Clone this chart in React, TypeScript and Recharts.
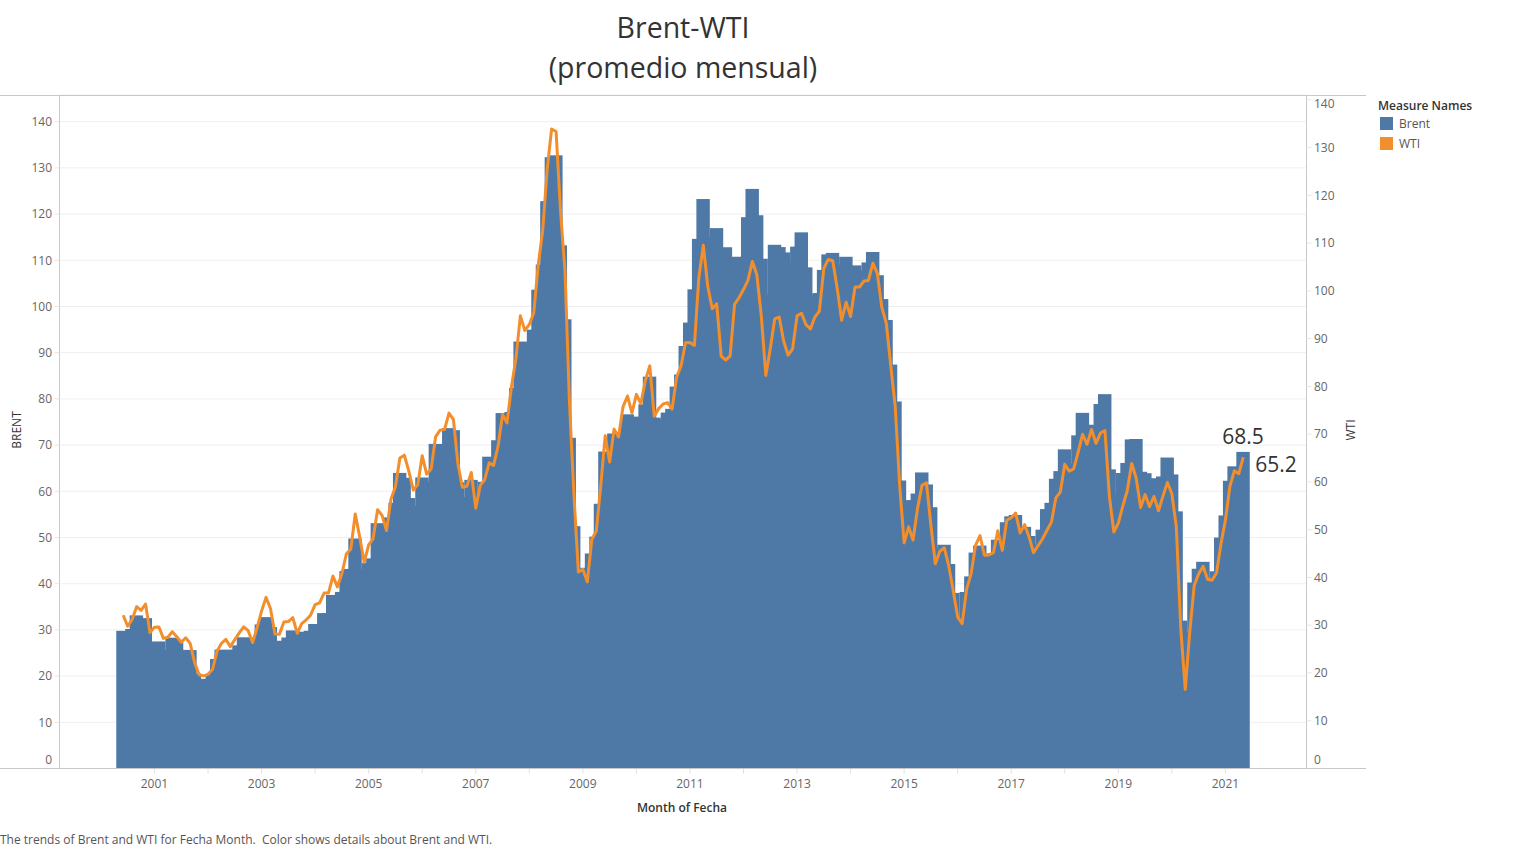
import { ComposedChart, Bar, Line, XAxis, YAxis, CartesianGrid, LabelList } from "recharts";

const FONT = '"Open Sans", sans-serif';
const BLUE = "#4e79a7";
const ORANGE = "#f28e2b";

// monthly averages, Jun 2000 .. May 2021
const brent = [
  29.8, 28.68, 30.2, 33.14, 30.96, 32.55, 25.66,
  25.62, 27.5, 24.5, 25.66, 28.31, 27.85, 24.61, 25.68, 25.62, 20.54, 18.8, 18.71,
  19.42, 20.28, 23.7, 25.73, 25.35, 24.08, 25.74, 26.65, 28.4, 27.54, 24.34, 28.33,
  31.18, 32.77, 30.61, 25.0, 25.86, 27.65, 28.35, 29.89, 27.11, 29.61, 28.75, 29.81,
  31.28, 30.86, 33.63, 33.59, 37.57, 35.18, 38.22, 42.74, 43.2, 49.78, 43.11, 39.6,
  44.51, 45.48, 53.1, 51.88, 48.65, 54.35, 57.52, 63.98, 62.91, 58.54, 55.24, 56.86,
  62.99, 60.21, 62.06, 70.26, 69.78, 68.56, 73.67, 73.23, 61.96, 57.81, 58.76, 62.47,
  53.68, 57.56, 62.05, 67.49, 67.21, 71.05, 76.93, 70.76, 77.17, 82.34, 92.41, 90.93,
  92.18, 94.99, 103.64, 109.07, 122.8, 132.32, 132.72, 113.24, 97.23, 71.58, 52.45, 39.95,
  43.44, 43.32, 46.54, 50.18, 57.3, 68.61, 64.44, 72.51, 67.65, 72.77, 76.66, 74.46,
  76.17, 73.75, 78.83, 84.82, 75.95, 74.76, 75.58, 77.04, 77.84, 82.67, 85.28, 91.45,
  96.52, 103.72, 114.64, 123.26, 114.99, 113.83, 116.97, 110.22, 112.83, 109.55, 110.77, 107.87,
  110.69, 119.33, 125.45, 119.75, 110.34, 95.16, 102.62, 113.36, 112.86, 111.71, 109.06, 109.49,
  112.96, 116.05, 108.47, 102.25, 102.56, 102.92, 107.93, 111.28, 111.6, 109.08, 107.79, 110.76,
  108.12, 108.9, 107.48, 107.76, 109.54, 111.8, 106.77, 101.61, 97.09, 87.43, 79.44, 62.34,
  47.76, 58.1, 55.89, 59.52, 64.08, 61.48, 56.56, 46.52, 47.62, 48.43, 44.27, 38.01,
  30.7, 32.18, 38.21, 41.58, 46.74, 48.25, 44.95, 45.84, 46.57, 49.52, 44.73, 53.31,
  54.58, 54.87, 51.59, 52.31, 50.33, 46.37, 48.48, 51.7, 56.15, 57.51, 62.71, 64.37,
  69.08, 65.32, 66.02, 72.11, 76.98, 74.41, 74.25, 72.53, 78.89, 81.03, 64.75, 57.36,
  59.41, 63.96, 66.14, 71.23, 71.32, 64.22, 63.92, 59.04, 62.83, 59.71, 63.21, 67.31,
  63.65, 55.66, 32.01, 18.38, 29.38, 40.27, 43.24, 44.74, 40.91, 40.19, 42.69, 49.99,
  54.77, 62.28, 65.41, 64.81, 68.53,
];

const wti = [
  32.08, 29.77, 31.22, 33.88, 33.11, 34.42, 28.44,
  29.59, 29.61, 27.24, 27.49, 28.63, 27.6, 26.43, 27.37, 26.2, 22.17, 19.64, 19.39,
  19.72, 20.72, 24.53, 26.18, 27.04, 25.52, 26.97, 28.39, 29.66, 28.84, 26.35, 29.46,
  32.95, 35.83, 33.51, 28.17, 28.11, 30.66, 30.76, 31.57, 28.31, 30.34, 31.11, 32.13,
  34.31, 34.69, 36.74, 36.75, 40.28, 38.03, 40.78, 44.9, 45.94, 53.28, 48.47, 43.15,
  46.84, 48.15, 54.19, 52.98, 49.83, 56.35, 59.0, 64.99, 65.59, 62.26, 58.32, 59.41,
  65.49, 61.63, 62.69, 69.44, 70.84, 70.95, 74.41, 73.04, 63.8, 58.89, 59.08, 61.96,
  54.51, 59.28, 60.44, 63.98, 63.45, 67.49, 74.12, 72.36, 79.92, 85.8, 94.77, 91.69,
  92.97, 95.39, 105.45, 112.58, 125.4, 133.88, 133.37, 116.67, 104.11, 76.61, 57.31, 41.12,
  41.71, 39.09, 47.94, 49.65, 59.03, 69.64, 64.15, 71.05, 69.41, 75.72, 77.99, 74.47,
  78.33, 76.39, 81.2, 84.29, 73.74, 75.34, 76.32, 76.6, 75.24, 81.89, 84.25, 89.15,
  89.17, 88.58, 102.86, 109.53, 100.9, 96.26, 97.3, 86.33, 85.52, 86.32, 97.16, 98.56,
  100.27, 102.2, 106.16, 103.32, 94.66, 82.3, 87.9, 94.13, 94.51, 89.49, 86.53, 87.86,
  94.76, 95.31, 92.94, 92.02, 94.51, 95.77, 104.67, 106.57, 106.29, 100.54, 93.86, 97.63,
  94.62, 100.82, 100.8, 102.07, 102.18, 105.79, 103.59, 96.54, 93.21, 84.4, 75.79, 59.29,
  47.22, 50.58, 47.82, 54.45, 59.27, 59.82, 50.9, 42.87, 45.48, 46.22, 42.44, 37.19,
  31.68, 30.32, 37.55, 40.75, 46.71, 48.76, 44.65, 44.72, 45.18, 49.78, 45.66, 51.97,
  52.5, 53.47, 49.33, 51.06, 48.48, 45.18, 46.63, 48.04, 49.82, 51.58, 56.64, 57.88,
  63.7, 62.23, 62.73, 66.25, 69.98, 67.87, 70.98, 68.06, 70.23, 70.75, 56.96, 49.52,
  51.38, 54.95, 58.15, 63.86, 60.83, 54.66, 57.35, 54.81, 56.95, 53.96, 57.03, 59.88,
  57.52, 50.54, 29.21, 16.55, 28.56, 38.31, 40.71, 42.34, 39.63, 39.4, 40.94, 47.02,
  52.0, 59.04, 62.33, 61.72, 65.17,
];

const FIRST_YEAR = 2000;
const FIRST_MONTH = 6;

const months = brent.map((_, i) => {
  const m = FIRST_MONTH - 1 + i;
  return `${FIRST_YEAR + Math.floor(m / 12)}-${String((m % 12) + 1).padStart(2, "0")}`;
});

const yearTicks = [
  "2001-01", "2002-01", "2003-01", "2004-01", "2005-01", "2006-01", "2007-01",
  "2008-01", "2009-01", "2010-01", "2011-01", "2012-01", "2013-01", "2014-01",
  "2015-01", "2016-01", "2017-01", "2018-01", "2019-01", "2020-01", "2021-01",
];
const yearLabels = ["2001", "2003", "2005", "2007", "2009", "2011", "2013", "2015", "2017", "2019", "2021"];
const valueTicks = [0, 10, 20, 30, 40, 50, 60, 70, 80, 90, 100, 110, 120, 130, 140];

const chartData = months.map((month, i) => ({ month, brent: brent[i], wti: wti[i] }));
const LAST = chartData.length - 1;

// tableau bars are wider than one month and overlap
const BAR_SPAN = 3.36;

const WideBar = (props: any) => {
  const { x, y, width, height } = props;
  if (!height || height <= 0) return null;
  const w = width * BAR_SPAN;
  return <rect x={x + width / 2 - w / 2} y={y} width={w} height={height} fill={BLUE} />;
};

const BrentLabel = (props: any) => {
  if (props.index !== LAST) return null;
  const vb = props.viewBox || props;
  const cx = vb.x + (vb.width || 0) / 2;
  const top = Math.min(vb.y, vb.y + (vb.height || 0));
  return (
    <text x={cx} y={top - 8} textAnchor="middle" fontSize={21} fill="#333" fontFamily={FONT}>
      {Number(props.value).toFixed(1)}
    </text>
  );
};

const WtiLabel = (props: any) => {
  if (props.index !== LAST) return null;
  const x = props.viewBox?.x ?? props.x;
  const y = props.viewBox?.y ?? props.y;
  return (
    <text x={x + 12} y={y + 15} fontSize={21} fill="#333" fontFamily={FONT}>
      {Number(props.value).toFixed(1)}
    </text>
  );
};

const LeftTick = (props: any) => {
  const { x, y, payload } = props;
  const shift = payload.value === 0 ? -9 : 0;
  return (
    <text x={x} y={y + shift} dy="0.355em" textAnchor="end" fontSize={12} fill="#666" fontFamily={FONT}>
      {payload.value}
    </text>
  );
};

const RightTick = (props: any) => {
  const { x, y, payload } = props;
  const shift = payload.value === 0 ? -9 : payload.value === 140 ? 4 : 0;
  return (
    <text x={x} y={y + shift} dy="0.355em" textAnchor="start" fontSize={12} fill="#666" fontFamily={FONT}>
      {payload.value}
    </text>
  );
};

export default function App() {
  return (
    <div
      style={{
        position: "absolute",
        left: 0,
        top: 0,
        width: 1517,
        height: 849,
        background: "#fff",
        fontFamily: FONT,
      }}
    >
      <div style={{ position: "absolute", left: 0, top: 0 }}>
        <ComposedChart
          width={1366}
          height={849}
          data={chartData}
          margin={{ top: 95, right: 0, bottom: 50.5, left: 0 }}
          barCategoryGap={0}
          barGap={0}
        >
          <CartesianGrid yAxisId="left" vertical={false} stroke="#efefef" />
          <XAxis
            dataKey="month"
            type="category"
            ticks={yearTicks}
            interval={0}
            tickFormatter={(v: string) => {
              const y = String(v).slice(0, 4);
              return yearLabels.includes(y) ? y : "";
            }}
            padding={{ left: 61.5, right: 61 }}
            height={30}
            axisLine={false}
            tickLine={{ stroke: "#e0e0e0" }}
            tickSize={5}
            tickMargin={6}
            tick={{ fontSize: 12, fill: "#666", fontFamily: FONT }}
          />
          <YAxis
            yAxisId="left"
            type="number"
            domain={[0, 145.78]}
            ticks={valueTicks}
            allowDataOverflow
            width={59.5}
            axisLine={{ stroke: "#c8c8c8" }}
            tickLine={{ stroke: "#e6e6e6" }}
            tickSize={5}
            tickMargin={2.5}
            tick={<LeftTick />}
          />
          <YAxis
            yAxisId="right"
            orientation="right"
            type="number"
            domain={[0, 141]}
            ticks={valueTicks}
            allowDataOverflow
            width={59.5}
            axisLine={{ stroke: "#c8c8c8" }}
            tickLine={{ stroke: "#e6e6e6" }}
            tickSize={5}
            tickMargin={2.5}
            tick={<RightTick />}
          />
          <Bar yAxisId="left" dataKey="brent" fill={BLUE} shape={WideBar} isAnimationActive={false}>
            <LabelList dataKey="brent" content={BrentLabel} />
          </Bar>
          <Line
            yAxisId="right"
            type="linear"
            dataKey="wti"
            stroke={ORANGE}
            strokeWidth={3}
            strokeLinejoin="round"
            dot={false}
            activeDot={false}
            isAnimationActive={false}
            label={WtiLabel}
          />
        </ComposedChart>
      </div>

      <svg
        width={1517}
        height={849}
        style={{ position: "absolute", left: 0, top: 0, pointerEvents: "none" }}
        fontFamily={FONT}
      >
        <line x1={0} x2={1366} y1={95.5} y2={95.5} stroke="#c8c8c8" />
        <line x1={0} x2={1366} y1={768.5} y2={768.5} stroke="#c8c8c8" />

        <text x={683} y={37.7} textAnchor="middle" fontSize={28.5} fontWeight={500} fill="#333">
          Brent-WTI
        </text>
        <text x={683} y={77.7} textAnchor="middle" fontSize={28.5} fontWeight={500} fill="#333">
          (promedio mensual)
        </text>

        <text transform="translate(20.5,430) rotate(-90)" textAnchor="middle" fontSize={12} fill="#333">
          BRENT
        </text>
        <text transform="translate(1354.5,430) rotate(-90)" textAnchor="middle" fontSize={12} fill="#333">
          WTI
        </text>
        <text x={682} y={811.5} textAnchor="middle" fontSize={12} fontWeight={600} fill="#333">
          Month of Fecha
        </text>

        <text x={1378} y={110} fontSize={12} fontWeight={600} fill="#333">
          Measure Names
        </text>
        <rect x={1380} y={117} width={13} height={13} fill={BLUE} />
        <text x={1399} y={128} fontSize={12} fill="#555">
          Brent
        </text>
        <rect x={1380} y={137} width={13} height={13} fill={ORANGE} />
        <text x={1399} y={148} fontSize={12} fill="#555">
          WTI
        </text>

        <text x={0} y={843.5} fontSize={12} fill="#555" style={{ whiteSpace: "pre" }}>
          {"The trends of Brent and WTI for Fecha Month.  Color shows details about Brent and WTI."}
        </text>
      </svg>
    </div>
  );
}
